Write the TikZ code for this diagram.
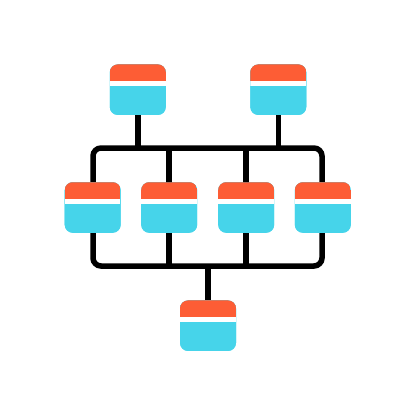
\documentclass[tikz,border=0pt]{standalone}
\definecolor{cellorange}{HTML}{FD5D35}
\definecolor{cellblue}{HTML}{46D4EA}
\tikzset{
    cell/.style={minimum width=56pt, minimum height=50.5pt, inner sep=0, outer sep=0,
        rounded corners=8pt, fill=cellblue,
        path picture={
            \fill[cellorange, sharp corners] (path picture bounding box.north west) rectangle ([yshift=-16.5pt]path picture bounding box.north east);
            \fill[white, sharp corners] ([yshift=-16.5pt]path picture bounding box.north west) rectangle ([yshift=-21.5pt]path picture bounding box.north east);
        }},
    bus/.style={draw, line width=5.5pt, rounded corners=8pt, minimum width=229pt, minimum height=118pt, inner sep=0, outer sep=0},
    wire/.style={line width=5.5pt}
}
\begin{document}
\begin{tikzpicture}[x=1pt, y=-1pt]
        \useasboundingbox (0,0) rectangle (416,416);

        \node[bus] (frame) at (207.5, 207) {};

        \node[cell] (top1) at (137.8, 89.7) {};
        \node[cell] (top2) at (278.3, 89.7) {};

        \node[cell] (mid1) at (92.7, 207.5) {};
        \node[cell] (mid2) at (169.2, 207.5) {};
        \node[cell] (mid3) at (246.2, 207.5) {};
        \node[cell] (mid4) at (322.8, 207.5) {};

        \node[cell] (bot) at (208, 325.7) {};

        \draw[wire] (top1.south) -- (top1.south |- frame.north);
        \draw[wire] (top2.south) -- (top2.south |- frame.north);
        \draw[wire] (mid2 |- frame.north) -- (mid2 |- frame.south);
        \draw[wire] (mid3 |- frame.north) -- (mid3 |- frame.south);
        \draw[wire] (bot.north |- frame.south) -- (bot.north);

        % boxes again on top of the wires
        \foreach \n in {top1, top2, mid1, mid2, mid3, mid4, bot}
            \node[cell] at (\n) {};
    \end{tikzpicture}
\end{document}
